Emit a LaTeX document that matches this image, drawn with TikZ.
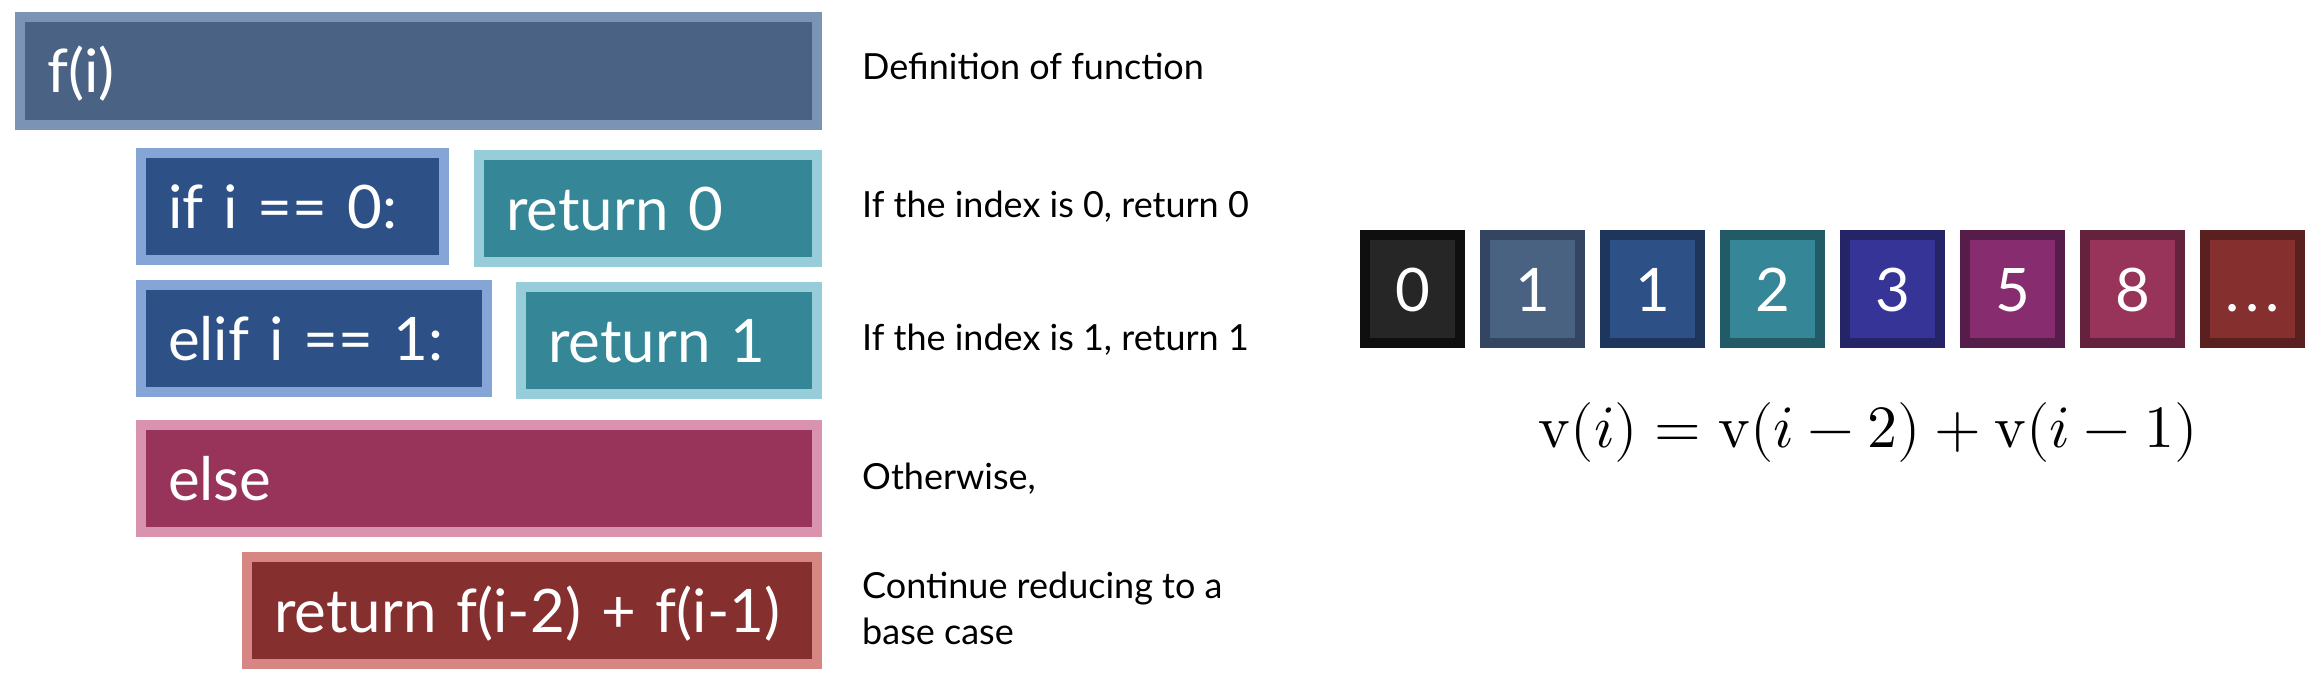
\documentclass[tikz,border=0pt]{standalone}
\usepackage{fontspec}
\usepackage{unicode-math}
\setmainfont{Lato}
\setmathfont{Latin Modern Math}
\definecolor{fiF}{HTML}{4A6283}\definecolor{fiB}{HTML}{7B94B6}
\definecolor{ifF}{HTML}{2D5086}\definecolor{ifB}{HTML}{84A5D6}
\definecolor{rtF}{HTML}{358696}\definecolor{rtB}{HTML}{96CDD9}
\definecolor{elF}{HTML}{98335A}\definecolor{elB}{HTML}{DA93AE}
\definecolor{rfF}{HTML}{852F2E}\definecolor{rfB}{HTML}{D68683}
\definecolor{cAF}{HTML}{262626}\definecolor{cAB}{HTML}{0F0F0F}
\definecolor{cBF}{HTML}{4A6282}\definecolor{cBB}{HTML}{334560}
\definecolor{cCF}{HTML}{2D5086}\definecolor{cCB}{HTML}{1F365C}
\definecolor{cDF}{HTML}{358696}\definecolor{cDB}{HTML}{225B66}
\definecolor{cEF}{HTML}{363597}\definecolor{cEB}{HTML}{242467}
\definecolor{cGF}{HTML}{862C6F}\definecolor{cGB}{HTML}{561D4B}
\definecolor{cHF}{HTML}{98335A}\definecolor{cHB}{HTML}{65223D}
\definecolor{cIF}{HTML}{852F2E}\definecolor{cIB}{HTML}{5A201F}
\tikzset{
  codebox/.style n args={3}{rectangle, draw=#2, fill=#1, line width=10pt,
    minimum height=107pt, text height=43pt, text depth=0pt, inner xsep=27pt,
    inner ysep=0pt, text width=#3-64pt, align=left, text=white,
    font=\fontsize{60}{70}\selectfont},
  cell/.style 2 args={rectangle, draw=#2, fill=#1, line width=10pt,
    minimum width=95pt, minimum height=108pt, inner sep=0pt, text=white,
    text height=44pt, text depth=0pt,
    font=\fontsize{60}{70}\selectfont},
  desc/.style={anchor=base west, inner sep=0pt,
    font=\fontsize{36}{46}\selectfont}
}
\begin{document}
\begin{tikzpicture}[x=1pt,y=-1pt]
\useasboundingbox (0,0) rectangle (2315,685);
% code boxes
\node[codebox={fiF}{fiB}{807pt}] (fi) at (418.5,71) {f(i)};
\node[codebox={ifF}{ifB}{313pt}] (if0) at (292.5,206.5) {if i == 0:};
\node[codebox={rtF}{rtB}{348pt}] (r0) at (648,208.5) {return 0};
\node[codebox={ifF}{ifB}{356pt}] (if1) at (314,338.5) {elif i == 1:};
\node[codebox={rtF}{rtB}{306pt}] (r1) at (669,340.5) {return 1};
\node[codebox={elF}{elB}{686pt}] (el) at (479,478.5) {else};
\node[codebox={rfF}{rfB}{580pt}] (rf) at (532,610.5) {return f(i-2) + f(i-1)};
% descriptions
\node[desc] (d1) at (862,80) {Definition of function};
\node[desc] (d2) at (862,217) {If the index is 0, return 0};
\node[desc] (d3) at (862,350) {If the index is 1, return 1};
\node[desc] (d4) at (862,489) {Otherwise,};
\node[desc] (d5) at (862,598) {Continue reducing to a};
\node[desc] (d6) at (862,644) {base case};
% sequence cells
\node[cell={cAF}{cAB}] (c0) at (1412.5,289) {0};
\node[cell={cBF}{cBB}] (c1) at (1532.5,289) {1};
\node[cell={cCF}{cCB}] (c2) at (1652.5,289) {1};
\node[cell={cDF}{cDB}] (c3) at (1772.5,289) {2};
\node[cell={cEF}{cEB}] (c4) at (1892.5,289) {3};
\node[cell={cGF}{cGB}] (c5) at (2012.5,289) {5};
\node[cell={cHF}{cHB}] (c6) at (2132.5,289) {8};
\node[cell={cIF}{cIB}] (c7) at (2252.5,289) {.\kern6pt.\kern6pt.};
% formula
\node[anchor=base, inner sep=0pt, font=\fontsize{60}{70}\selectfont] (eq) at (1868,447)
  {$\symup{v}(i) = \symup{v}(i-2) + \symup{v}(i-1)$};
\end{tikzpicture}
\end{document}
